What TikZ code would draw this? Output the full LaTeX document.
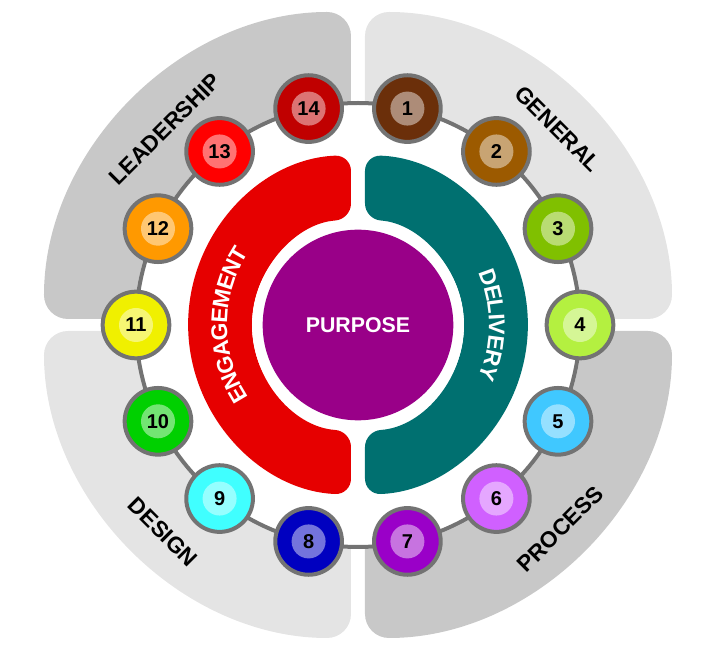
\documentclass[tikz,border=0pt]{standalone}
\usepackage{fontspec}
\setmainfont{Liberation Sans}
\usetikzlibrary{decorations.text}
\definecolor{qdark}{HTML}{C8C8C8}
\definecolor{qlight}{HTML}{E4E4E4}
\definecolor{red1}{HTML}{E60000}
\definecolor{teal1}{HTML}{007070}
\definecolor{purp}{HTML}{990088}
\tikzset{
 num/.style={circle,draw=gray!90!black,line width=3pt,minimum size=50pt,inner sep=0pt,font=\bfseries\fontsize{15}{15}\selectfont},
 qlabel/.style={font=\bfseries\fontsize{17}{17}\selectfont,text=black}
}
\begin{document}
\begin{tikzpicture}[x=0.75pt,y=0.75pt]
\useasboundingbox (-358,-342) rectangle (360,325);
% quadrants
\fill[qdark,rounded corners=18] (-7,6) -- (-7,313) arc(90:180:307) -- cycle;
\fill[qlight,rounded corners=18] (7,6) -- (314,6) arc(0:90:307) -- cycle;
\fill[qdark,rounded corners=18] (7,-6) -- (7,-313) arc(-90:0:307) -- cycle;
\fill[qlight,rounded corners=18] (-7,-6) -- (-314,-6) arc(180:270:307) -- cycle;
\fill[white] (0,0) circle (224);
\node[qlabel,rotate=45] (lead) at (-193,196) {LEADERSHIP};
\node[qlabel,rotate=-45] (gen) at (200,196) {GENERAL};
\node[qlabel,rotate=45] (proc) at (202,-204) {PROCESS};
\node[qlabel,rotate=-45] (des) at (-195,-207) {DESIGN};
% ring
\draw[gray!90!black,line width=3pt] (0,0) circle (222);
\foreach \i/\c in {1/6B2F0A,2/9C5A00,3/80C000,4/B4F040,5/40C8FF,6/D060FF,7/9A00C8,8/0000C0,9/40FFFF,10/00D000,11/F0F000,12/FF9900,13/FF0000,14/C00000}{
  \pgfmathsetmacro\ang{77.14-(\i-1)*25.714}
  \definecolor{cc}{HTML}{\c}
  \node[num,fill=cc] (c\i) at (\ang:222) {};
  \fill[white,opacity=0.45] (c\i.center) circle (17);
  \node[font=\bfseries\fontsize{15}{15}\selectfont] at (c\i.center) {\i};
}
% halves
\fill[red1,rounded corners=12] (-7,170) arc(92.4:267.6:170) -- (-7,-106) arc(266.2:93.8:106) -- cycle;
\fill[teal1,rounded corners=12] (7,170) arc(87.6:-87.6:170) -- (7,-106) arc(-86.2:86.2:106) -- cycle;
\fill[white] (0,0) circle (106);
\node[circle,fill=purp,minimum size=143pt,inner sep=0pt,text=white,font=\bfseries\fontsize{16}{16}\selectfont] (purpose) at (0,0) {PURPOSE};
\path[decorate,decoration={text along path,text align=center,raise=-6pt,
  text={|\color{white}\bfseries\fontsize{17}{17}\selectfont|ENGAGEMENT}}] (228:139) arc(228:132:139);
\path[decorate,decoration={text along path,text align=center,raise=-6pt,
  text={|\color{white}\bfseries\fontsize{17}{17}\selectfont|DELIVERY}}] (45:139) arc(45:-45:139);
\end{tikzpicture}
\end{document}
